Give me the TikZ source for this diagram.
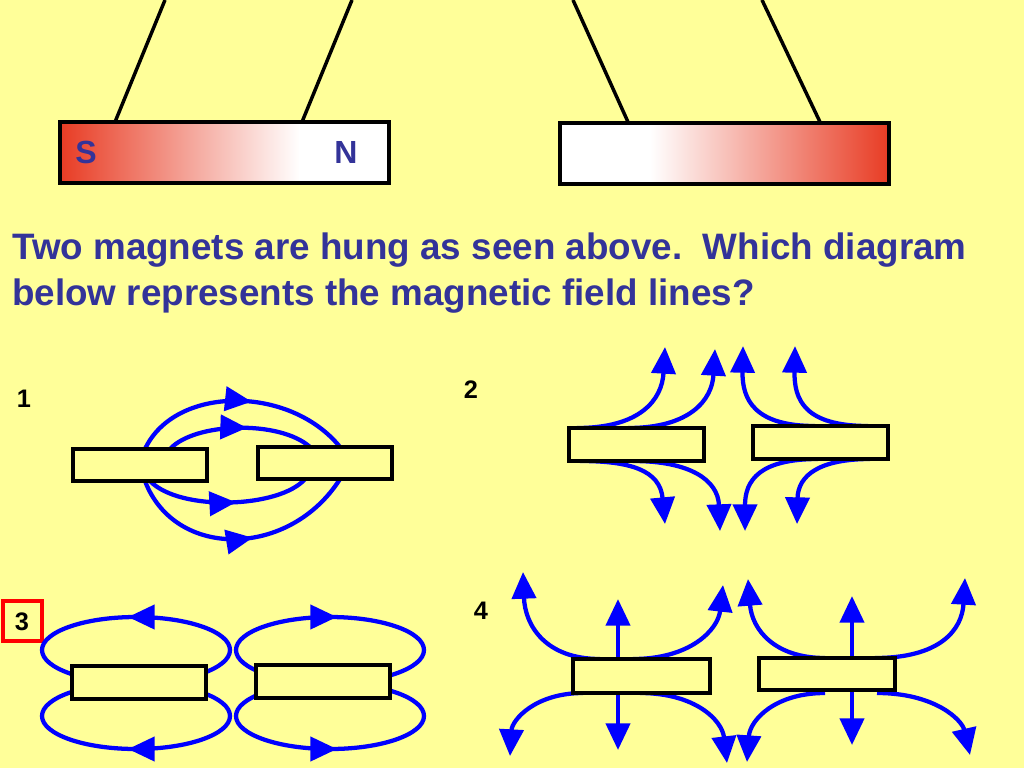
\documentclass[tikz,border=0pt]{standalone}
\usepackage{fontspec}
\setmainfont{Liberation Sans}
\usetikzlibrary{arrows.meta,decorations.markings}
\definecolor{bg}{RGB}{255,255,153}
\definecolor{magred}{RGB}{232,60,36}
\definecolor{txt}{RGB}{51,51,153}
\definecolor{fl}{RGB}{0,0,255}
\begin{document}
\begin{tikzpicture}[x=0.75pt,y=-0.75pt,
  field/.style={draw=fl,line width=3.2pt,-{Triangle[length=20pt,width=18pt]}},
  loop/.style={draw=fl,line width=3.2pt},
  bar/.style={draw=black,line width=2.6pt,fill=bg},
  tip/.style={fl,-{Triangle[length=20pt,width=18pt]},line width=3.2pt},
  midarrow/.style={loop,postaction={decorate},decoration={markings,mark=at position 0.55 with {\arrow{Triangle[length=20pt,width=18pt]}}}},
  num/.style={font=\bfseries\fontsize{19}{22}\selectfont,text=black}]
\fill[bg] (0,0) rectangle (1024,768);
\useasboundingbox (0,0) rectangle (1024,768);
% strings
\draw[line width=2.6pt] (165,0)--(115,122) (352,0)--(302,122) (573,0)--(628,122) (762,0)--(820,122);
% top magnets
\shade[left color=magred,right color=white] (60,122) rectangle (300,183);
\fill[white] (299,122) rectangle (389,183);
\draw[line width=2.6pt] (60,122) rectangle (389,183);
\fill[white] (560,123) rectangle (651,184);
\shade[left color=white,right color=magred] (650,123) rectangle (889,184);
\draw[line width=2.6pt] (560,123) rectangle (889,184);
\node[text=txt,font=\bfseries\fontsize{24}{28}\selectfont] (s) at (86,152) {S};
\node[text=txt,font=\bfseries\fontsize{24}{28}\selectfont] (n) at (346,152) {N};
% question
\node[anchor=north west,text=txt,font=\bfseries\fontsize{27.6}{34.5}\selectfont,align=left,inner sep=0] (q) at (12,233)
 {Two magnets are hung as seen above.\ \ Which diagram\\below represents the magnetic field lines?};
% numbers
\node[num] (n1) at (24,399) {1};
\node[num] (n2) at (471,390) {2};
\node[num] (n3) at (22,622) {3};
\draw[red,line width=2.4pt] (3,601) rectangle (42,641);
\node[num] (n4) at (481,611) {4};
% diagram 1
\draw[midarrow] (145,449) .. controls (175,385) and (290,385) .. (340,447);
\draw[midarrow] (170,449) .. controls (195,422) and (280,420) .. (310,447);
\draw[midarrow] (150,481) .. controls (180,512) and (280,508) .. (305,479);
\draw[midarrow] (145,481) .. controls (175,560) and (290,558) .. (340,479);
\draw[bar] (73,449) rectangle (207,481);
\draw[bar] (258,447) rectangle (392,479);
% diagram 3
\draw[loop] (136,650) ellipse [x radius=94, y radius=33];
\draw[loop] (136,716) ellipse [x radius=94, y radius=33];
\draw[loop] (330,650) ellipse [x radius=94, y radius=33];
\draw[loop] (330,716) ellipse [x radius=94, y radius=33];
\draw[tip] (150,617)--(128,617);
\draw[tip] (150,749)--(128,749);
\draw[tip] (315,617)--(337,617);
\draw[tip] (315,749)--(337,749);
\draw[bar] (72,666) rectangle (206,699);
\draw[bar] (256,665) rectangle (390,698);
% diagram 2
\draw[field] (577,428) .. controls (640,428) and (662,400) .. (665,347);
\draw[field] (628,428) .. controls (690,428) and (712,400) .. (715,349);
\draw[field] (815,426) .. controls (755,426) and (742,400) .. (743,346);
\draw[field] (868,426) .. controls (805,426) and (794,400) .. (795,346);
\draw[field] (580,461) .. controls (630,461) and (660,470) .. (665,524);
\draw[field] (633,461) .. controls (690,461) and (718,480) .. (720,531);
\draw[field] (818,459) .. controls (760,459) and (745,480) .. (745,531);
\draw[field] (870,459) .. controls (820,459) and (798,475) .. (797,524);
\draw[bar] (569,428) rectangle (704,461);
\draw[bar] (753,426) rectangle (888,459);
% diagram 4
\draw[field] (618,659)--(618,599);
\draw[field] (618,693)--(618,750);
\draw[field] (852,658)--(852,596);
\draw[field] (852,690)--(852,745);
\draw[field] (600,659) .. controls (545,659) and (525,625) .. (523,572);
\draw[field] (633,659) .. controls (690,659) and (718,630) .. (723,585);
\draw[field] (583,693) .. controls (535,693) and (512,720) .. (510,756);
\draw[field] (640,693) .. controls (695,693) and (722,720) .. (727,763);
\draw[field] (825,658) .. controls (775,658) and (752,630) .. (748,579);
\draw[field] (875,658) .. controls (940,658) and (962,630) .. (965,578);
\draw[field] (825,693) .. controls (775,693) and (750,720) .. (747,762);
\draw[field] (877,693) .. controls (935,693) and (962,720) .. (970,755);
\draw[bar] (573,659) rectangle (710,693);
\draw[bar] (759,658) rectangle (895,690);
\end{tikzpicture}
\end{document}
